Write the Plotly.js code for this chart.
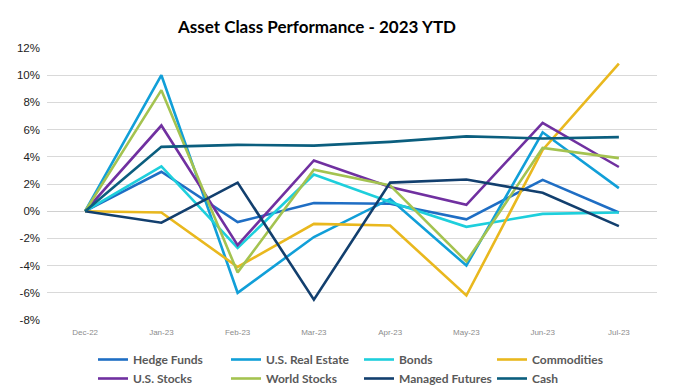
<!DOCTYPE html>
<html>
<head>
<meta charset="utf-8">
<script src="https://cdn.plot.ly/plotly-3.0.1.min.js"></script>
<style>html,body{margin:0;padding:0;background:#fff;}#chart{width:679px;height:385px;}</style>
</head>
<body>
<div id="chart"></div>
<script>
var months = ["Dec-22","Jan-23","Feb-23","Mar-23","Apr-23","May-23","Jun-23","Jul-23"];
var hedgeFunds     = [0, 2.9, -0.8, 0.6, 0.55, -0.6, 2.3, -0.1];
var usRealEstate   = [0, 10.0, -6.0, -1.9, 0.9, -4.0, 5.8, 1.7];
var bonds          = [0, 3.3, -2.7, 2.7, 0.68, -1.15, -0.2, -0.1];
var commodities    = [0, -0.1, -4.1, -0.93, -1.05, -6.2, 4.5, 10.85];
var usStocks       = [0, 6.3, -2.5, 3.73, 1.78, 0.47, 6.5, 3.25];
var worldStocks    = [0, 8.9, -4.5, 3.05, 1.9, -3.7, 4.65, 3.9];
var managedFutures = [0, -0.85, 2.1, -6.5, 2.1, 2.33, 1.35, -1.1];
var cash           = [0, 4.73, 4.88, 4.82, 5.1, 5.5, 5.35, 5.45];
var yTicks = [-8,-6,-4,-2,0,2,4,6,8,10,12];

var seriesNames = ["Hedge Funds","U.S. Real Estate","Bonds","Commodities","U.S. Stocks","World Stocks","Managed Futures","Cash"];
var seriesData = [hedgeFunds, usRealEstate, bonds, commodities, usStocks, worldStocks, managedFutures, cash];
var colors = ["#1f6ec4","#119fd8","#1ecfdc","#e9b81e","#7030a0","#a4c350","#123f6e","#0b5e7e"];

var traces = seriesNames.map(function(n,i){
  return {x: months, y: seriesData[i], name: n, type:'scatter', mode:'lines',
          line:{color:colors[i], width:2.6}, hoverinfo:'none'};
});

var layout = {
  width:679, height:385,
  margin:{l:47, r:22, t:48, b:65, autoexpand:false},
  paper_bgcolor:'#fff', plot_bgcolor:'#fff',
  title:{text:'<b>Asset Class Performance - 2023 YTD</b>', x:317/679, xref:'container', xanchor:'center', y:1-27/385, yref:'container', yanchor:'middle',
         font:{family:'Lato, Carlito, sans-serif', size:17, color:'#000'}},
  xaxis:{type:'category', range:[-0.5,7.5], showgrid:false, zeroline:false, showline:false,
         ticks:'', tickfont:{family:'Liberation Sans, Arial, sans-serif', size:8, color:'#8c8c8c'},
         ticklabelstandoff:6, fixedrange:true},
  yaxis:{range:[-8,12], tickvals:yTicks, ticktext:yTicks.map(function(v){return v+'%';}),
         showgrid:true, gridcolor:'#d9d9d9', gridwidth:1, zeroline:true, zerolinecolor:'#d0d0d0', zerolinewidth:1,
         tickfont:{family:'Liberation Sans, Arial, sans-serif', size:11.5, color:'#222'}, ticks:'', ticklabelstandoff:6, fixedrange:true},
  showlegend:true,
  legend:{orientation:'h', x:93/679, xref:'container', xanchor:'left', y:(385-345)/385, yref:'container', yanchor:'top', entrywidth:88, entrywidthmode:'pixels',
          font:{family:'Lato, Carlito, sans-serif', size:12, color:'#595959', weight:'bold'}, tracegroupgap:0, itemclick:false},
};
Plotly.newPlot('chart', traces, layout, {staticPlot:true});
</script>
</body>
</html>
